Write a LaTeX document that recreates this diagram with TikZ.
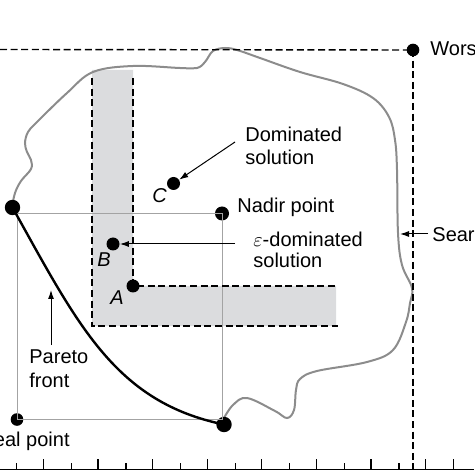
\documentclass[tikz,border=0pt]{standalone}
\usepackage{fontspec}
\setmainfont{Liberation Sans}
\usetikzlibrary{arrows.meta}
\definecolor{regiongray}{HTML}{DBDCDE}
\definecolor{blobgray}{HTML}{8C8C8C}
\definecolor{boxgray}{HTML}{A3A3A3}

\begin{document}
\begin{tikzpicture}
  [x=0.5pt,y=-0.5pt,every node/.style={inner sep=0pt},
   dot/.style={circle,fill=black,minimum size=6.5pt},
   lbl/.style={anchor=base west,align=left},
   arr/.style={-{Latex[length=4.5pt,width=3pt]},line width=0.5pt},
   dashline/.style={dash pattern=on 3.5pt off 1.8pt,line width=0.7pt}]
  \useasboundingbox (0,0) rectangle (474,474);
  \clip (0,0) rectangle (474,474);

  % shaded region
  \fill[regiongray] (92,70) -- (133,70) -- (133,286) -- (336,286) -- (336,326)
  -- (92,326) -- cycle;

  % search space
  \draw[blobgray,line width=1pt] plot[smooth,tension=0.6] coordinates
  {(12,207) (15,193) (21,181) (31,169) (31,160) (27,152) (25,143) (28,132)
   (37,122) (67,93) (93,72) (133,66) (180,68) (197,68) (205,62) (213,51)
   (225,48) (237,50) (260,58) (300,72) (343,84) (373,98) (389,117) (395,140)
   (397,170) (398,233) (402,265) (412,288) (410,303) (406,322) (393,350)
   (367,362) (317,371) (300,379) (296,390) (294,410) (287,418) (275,411)
   (247,398) (233,405) (224,418)};

  \node[dot,minimum size=7.7pt] (pf1) at (12.5,207.5) {};
  \node[dot,minimum size=7.7pt] (pf2) at (224,424.5) {};
  \node[dot,minimum size=6.3pt] (ideal) at (17,419.5) {};
  \node[dot,minimum size=7pt] (nadir) at (222,213.5) {};
  \node[dot,minimum size=6.3pt] (worst) at (413,50) {};
  \node[dot] (A) at (133,286) {};
  \node[dot] (B) at (113,244) {};
  \node[dot] (C) at (173.5,183.5) {};

  % ideal-nadir box
  \draw[boxgray,line width=0.5pt] (ideal.center) rectangle (nadir.center);

  % dashed lines
  \draw[dashline] (0,49.5) -- (worst.center);
  \draw[dashline] (worst.center) -- (413,469);
  \draw[dashline] (92,78) -- (92,326) -- (338,326);
  \draw[dashline] (133,78) -- (A.center) -- (336,286);

  % Pareto front
  \draw[line width=1.2pt] (pf1.center) .. controls (78,325) and (115,402) ..
  (pf2.center);

  % axis
  \draw[line width=0.8pt] (0,469.5) -- (474,469.5);
  \foreach \x in {16.7,71.3,125.9,180.5,235.1,289.7,344.3,398.9}
    \draw[line width=0.6pt] (\x,463) -- (\x,469.5);
  \foreach \x in {43.3,97.9,152.5,207.1,261.7,316.3,370.9,425.5,453.5}
    \draw[line width=0.6pt] (\x,459) -- (\x,469.5);

  % two-line labels sit on the baseline of their last line
  \node[lbl] (l1) at (245,165) {Dominated\\[-0.5pt]solution};
  \node[lbl] (l2) at (237,213) {Nadir point};
  \node[lbl] (l3) at (253,268) {$\varepsilon$-dominated\\[-1.5pt]solution};
  \node[lbl] (l4) at (29,387) {Pareto\\front};
  \node[anchor=base east] (l5) at (70,446) {Ideal point};
  \node[lbl] (l6) at (430,56) {Worst point};
  \node[lbl] (l7) at (432,242) {Search space};
  \node[lbl,font=\itshape] (la) at (110,305) {A};
  \node[lbl,font=\itshape] (lb) at (97,267) {B};
  \node[lbl,font=\itshape] (lc) at (152,203) {C};

  \coordinate (dtail) at (235,142);
  \coordinate (etail) at (235,244);
  \coordinate (stail) at (428,234);
  \coordinate (shead) at (400,234);
  \coordinate (ptail) at (51,345);
  \coordinate (phead) at (51,290);
  \draw[arr] (dtail) -- (C);
  \draw[arr] (etail) -- (B);
  \draw[arr] (stail) -- (shead);
  \draw[arr] (ptail) -- (phead);
\end{tikzpicture}
\end{document}
